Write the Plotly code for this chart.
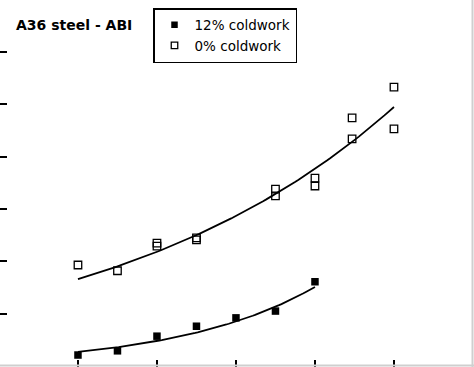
import numpy as np
import plotly.graph_objects as go

# 12% coldwork (filled squares)
x_cw12 = [1.0, 1.5, 2.0, 2.5, 3.0, 3.5, 4.0]
y_cw12 = [0.21, 0.29, 0.57, 0.76, 0.92, 1.05, 1.61]

# 0% coldwork (open squares)
x_cw0 = [1.0, 1.5, 2.0, 2.0, 2.5, 2.5, 3.5, 3.5, 4.0, 4.0, 4.47, 4.47, 5.0, 5.0]
y_cw0 = [1.93, 1.82, 2.35, 2.29, 2.45, 2.41, 3.38, 3.25, 3.59, 3.44, 4.74, 4.34, 5.33, 4.53]

# exponential trend fits y = a*exp(b*x)
fit12_a, fit12_b, fit12_x = 0.152, 0.574, (1.0, 4.0)
fit0_a, fit0_b, fit0_x = 1.264, 0.273, (1.0, 5.0)

x_ticks = [1, 2, 3, 4, 5]
y_ticks = [1, 2, 3, 4, 5, 6]

title_text = "A36 steel - ABI"
name12 = "12% coldwork"
name0 = "0% coldwork"

FONT = "DejaVu Sans"

fig = go.Figure()

xf12 = np.linspace(*fit12_x, 100)
xf0 = np.linspace(*fit0_x, 100)
fig.add_trace(go.Scatter(x=xf12, y=fit12_a * np.exp(fit12_b * xf12), mode="lines",
                         line=dict(color="black", width=1.8), showlegend=False, hoverinfo="skip"))
fig.add_trace(go.Scatter(x=xf0, y=fit0_a * np.exp(fit0_b * xf0), mode="lines",
                         line=dict(color="black", width=1.8), showlegend=False, hoverinfo="skip"))

fig.add_trace(go.Scatter(x=x_cw12, y=y_cw12, mode="markers", name=name12, showlegend=False,
                         marker=dict(symbol="square", size=7.5, color="black",
                                     line=dict(color="black", width=0))))
fig.add_trace(go.Scatter(x=x_cw0, y=y_cw0, mode="markers", name=name0, showlegend=False,
                         marker=dict(symbol="square-open", size=7.5, color="black",
                                     line=dict(color="black", width=1.3))))

# legend entries (smaller symbols, as in the original key)
fig.add_trace(go.Scatter(x=[None], y=[None], mode="markers", name=name12,
                         marker=dict(symbol="square", size=6.5, color="black")))
fig.add_trace(go.Scatter(x=[None], y=[None], mode="markers", name=name0,
                         marker=dict(symbol="square-open", size=6.5, color="black",
                                     line=dict(color="black", width=1.3))))

W, H = 474, 367
fig.update_layout(
    width=W, height=H,
    margin=dict(l=0, r=0, t=0, b=0),
    paper_bgcolor="white", plot_bgcolor="white",
    font=dict(family=FONT, color="black"),
    xaxis=dict(range=[0.013, 6.013], tickvals=x_ticks, showticklabels=False,
               ticks="inside", ticklen=7, tickwidth=1.5, tickcolor="black",
               showgrid=False, zeroline=False, showline=False),
    yaxis=dict(range=[-0.019, 6.994], tickvals=y_ticks, showticklabels=False,
               ticks="inside", ticklen=7, tickwidth=1.5, tickcolor="black",
               showgrid=False, zeroline=False, showline=False),
    legend=dict(x=153 / W, y=1 - 8 / H, xanchor="left", yanchor="top",
                bordercolor="black", borderwidth=1.5, bgcolor="white",
                font=dict(family=FONT, size=13.5, color="black"),
                itemsizing="trace"),
    showlegend=True,
)

# light grey frame lines at bottom and right
fig.add_shape(type="line", xref="paper", yref="paper", x0=0, x1=1, y0=1.5 / H, y1=1.5 / H,
              line=dict(color="#cfcfcf", width=2))
fig.add_shape(type="line", xref="paper", yref="paper", x0=1 - 1.5 / W, x1=1 - 1.5 / W, y0=0, y1=1,
              line=dict(color="#cfcfcf", width=2))

fig.add_annotation(text="<b>" + title_text + "</b>", xref="paper", yref="paper",
                   x=14 / W, y=1 - 25 / H, xanchor="left", yanchor="middle",
                   showarrow=False, font=dict(family=FONT, size=14, color="black"))

fig.write_html("out.html", config={"displayModeBar": False},
               post_script="document.body.style.margin='0';document.body.style.padding='0';")
